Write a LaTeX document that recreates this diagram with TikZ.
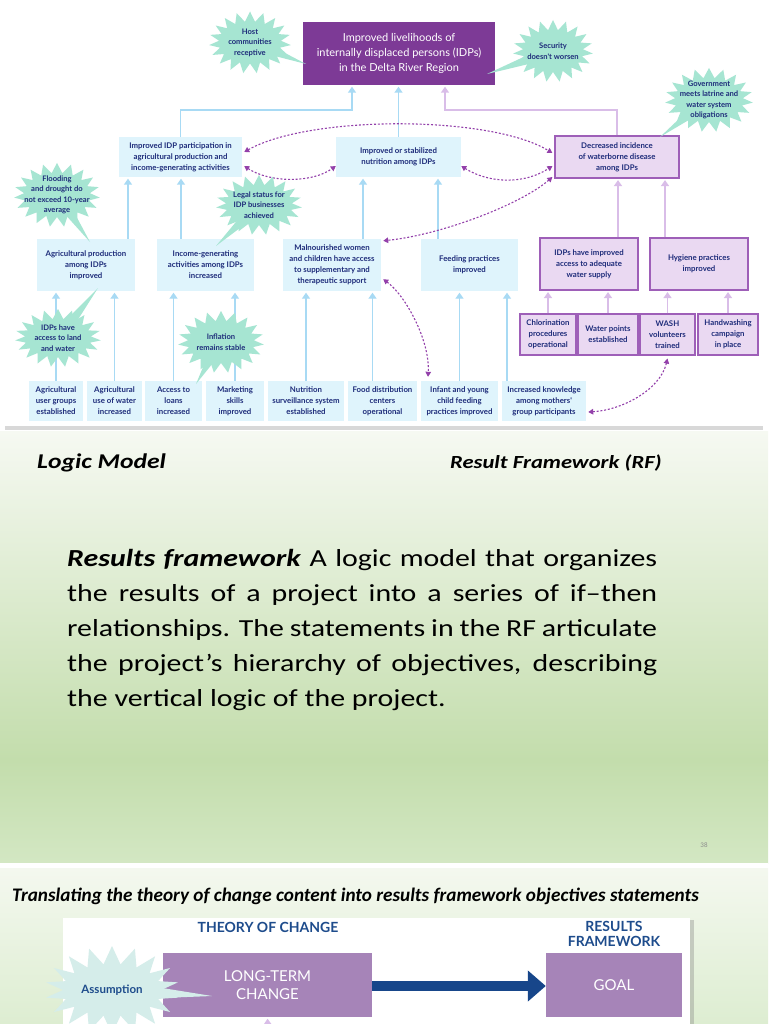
\documentclass[tikz,border=0pt]{standalone}
\usepackage{fontspec}
\setmainfont{Carlito}
\newfontfamily\slidefont[FakeStretch=1.22]{Carlito}
\newfontfamily\dfont{Lato}
\usetikzlibrary{arrows.meta,shapes.symbols,calc,shadows}
\definecolor{navy}{HTML}{1E2C7A}
\definecolor{goalp}{HTML}{7D3A96}
\definecolor{lbfill}{HTML}{DFF4FC}
\definecolor{lbline}{HTML}{A8DAF4}
\definecolor{lpfill}{HTML}{EAD9F2}
\definecolor{lpedge}{HTML}{9E5FB8}
\definecolor{lpline}{HTML}{D9BDE8}
\definecolor{dpurple}{HTML}{9340AA}
\definecolor{mint}{HTML}{A6E5D2}
\definecolor{palemint}{HTML}{D5EDEA}
\definecolor{tocp}{HTML}{A684B8}
\definecolor{tocblue}{HTML}{1E4C8C}
\definecolor{arrowblue}{HTML}{17468A}
\definecolor{sepgray}{HTML}{D8D8D8}
\definecolor{gA}{HTML}{F6F9F2}
\definecolor{gB}{HTML}{C3DDAC}
\definecolor{gC}{HTML}{D3E7C3}
\definecolor{gD}{HTML}{F4F8EF}
\definecolor{gE}{HTML}{DDEDD1}
\begin{document}
\begin{tikzpicture}[x=1pt,y=-1pt,
 tx/.style={font=\dfont\bfseries\fontsize{7.8}{11}\selectfont, text=navy, align=center, inner sep=0pt},
 lb/.style={tx, fill=lbfill},
 lp/.style={tx, fill=lpfill, draw=lpedge, line width=1.2pt},
 barrow/.style={draw=lbline, line width=1.4pt, -{Triangle[width=8pt,length=6pt]}, shorten >=1.5pt},
 parrow/.style={draw=lpline, line width=1.4pt, -{Triangle[width=8pt,length=6pt]}, shorten >=1.5pt},
 darrow/.style={draw=dpurple, line width=1.1pt, dash pattern=on 2pt off 1.8pt, {Triangle[width=5.5pt,length=5pt]}-{Triangle[width=5.5pt,length=5pt]}},
 burst/.style={starburst, starburst points=19, starburst point height=10pt, random starburst=0, fill=mint, draw=none, inner sep=0pt},
 btext/.style={tx, font=\dfont\bfseries\fontsize{7.6}{10.5}\selectfont},
 slidetxt/.style={text=black, inner sep=0pt},
]
\useasboundingbox (0,0) rectangle (768,1024);
% ---------- backgrounds ----------
\fill[white] (0,0) rectangle (768,428);
\fill[sepgray] (5,426) rectangle (763,430);
\shade[top color=gA, bottom color=gB] (0,431) rectangle (768,760);
\shade[top color=gB, bottom color=gC] (0,760) rectangle (768,863);
\fill[white] (0,863) rectangle (768,868);
\shade[top color=gD, bottom color=gE] (0,868) rectangle (768,1024);

% ---------- top diagram: boxes ----------
\node[fill=goalp, text=white, align=center, inner sep=0pt, minimum width=192pt, minimum height=63pt,
  font=\dfont\fontsize{11}{15}\selectfont] (goal) at (399,53.5)
  {Improved livelihoods of\\internally displaced persons (IDPs)\\in the Delta River Region};

\node[lb, minimum width=123pt, minimum height=40pt] (ipart) at (180.5,157)
  {Improved IDP participation in\\agricultural production and\\income-generating activities};
\node[lb, minimum width=125pt, minimum height=40pt] (nutr) at (398.5,157)
  {Improved or stabilized\\nutrition among IDPs};
\node[lp, minimum width=124pt, minimum height=42pt] (decr) at (617,157)
  {Decreased incidence\\of waterborne disease\\among IDPs};

\node[lb, minimum width=98pt, minimum height=52pt] (agp) at (86,265)
  {Agricultural production\\among IDPs\\improved};
\node[lb, minimum width=97pt, minimum height=52pt] (igp) at (205.5,265)
  {Income-generating\\activities among IDPs\\increased};
\node[lb, minimum width=98pt, minimum height=52pt] (mal) at (332,265)
  {Malnourished women\\and children have access\\to supplementary and\\therapeutic support};
\node[lb, minimum width=97pt, minimum height=52pt] (feed) at (469.5,265)
  {Feeding practices\\improved};
\node[lp, minimum width=98pt, minimum height=52pt] (wat) at (589,264)
  {IDPs have improved\\access to adequate\\water supply};
\node[lp, minimum width=98pt, minimum height=52pt] (hyg) at (699,264)
  {Hygiene practices\\improved};

\node[lp, minimum width=56pt, minimum height=41pt] (p1) at (548,334.5) {Chlorination\\procedures\\operational};
\node[lp, minimum width=60pt, minimum height=41pt] (p2) at (608,334.5) {Water points\\established};
\node[lp, minimum width=55pt, minimum height=41pt] (p3) at (667.5,334.5) {WASH\\volunteers\\trained};
\node[lp, minimum width=60pt, minimum height=41pt] (p4) at (728,334.5) {Handwashing\\campaign\\in place};

\node[lb, minimum width=54pt, minimum height=40pt] (a1) at (56,401) {Agricultural\\user groups\\established};
\node[lb, minimum width=55pt, minimum height=40pt] (a2) at (114.5,401) {Agricultural\\use of water\\increased};
\node[lb, minimum width=57pt, minimum height=40pt] (a3) at (173.5,401) {Access to\\loans\\increased};
\node[lb, minimum width=58pt, minimum height=40pt] (a4) at (235,401) {Marketing\\skills\\improved};
\node[lb, minimum width=76pt, minimum height=40pt] (a5) at (306,401) {Nutrition\\surveillance system\\established};
\node[lb, minimum width=69pt, minimum height=40pt] (a6) at (382.5,401) {Food distribution\\centers\\operational};
\node[lb, minimum width=77pt, minimum height=40pt] (a7) at (459.5,401) {Infant and young\\child feeding\\practices improved};
\node[lb, minimum width=84pt, minimum height=40pt] (a8) at (544,401) {Increased knowledge\\among mothers'\\group participants};

% ---------- solid connectors ----------
\draw[barrow] (a1.north) -- (a1.north |- agp.south);
\draw[barrow] (a2.north) -- (a2.north |- agp.south);
\draw[barrow] (a3.north) -- (a3.north |- igp.south);
\draw[barrow] (a4.north) -- (a4.north |- igp.south);
\draw[barrow] (a5.north) -- (a5.north |- mal.south);
\draw[barrow] ([xshift=-10pt]a6.north) -- ([xshift=-10pt]a6.north |- mal.south);
\draw[barrow] (a7.north) -- (a7.north |- feed.south);
\draw[barrow] ([xshift=-37pt]a8.north) -- ([xshift=-37pt]a8.north |- feed.south);

\draw[parrow] (p1.north) -- (p1.north |- wat.south);
\draw[parrow] (p2.north) -- (p2.north |- wat.south);
\draw[parrow] (p3.north) -- (p3.north |- hyg.south);
\draw[parrow] (p4.north) -- (p4.north |- hyg.south);

\draw[barrow] ([xshift=42pt]agp.north) -- ([xshift=42pt]agp.north |- ipart.south);
\draw[barrow] ([xshift=-24.5pt]igp.north) -- ([xshift=-24.5pt]igp.north |- ipart.south);
\draw[barrow] ([xshift=31pt]mal.north) -- ([xshift=31pt]mal.north |- nutr.south);
\draw[barrow] ([xshift=-31.5pt]feed.north) -- ([xshift=-31.5pt]feed.north |- nutr.south);
\draw[parrow] ([xshift=29pt]wat.north) -- ([xshift=29pt]wat.north |- decr.south);
\draw[parrow] ([xshift=-34pt]hyg.north) -- ([xshift=-34pt]hyg.north |- decr.south);

\coordinate (k1) at (352,110);
\coordinate (k2) at (445,110);
\draw[barrow] (ipart.north) |- (k1) -- (k1 |- goal.south);
\draw[barrow] (nutr.north) -- (nutr.north |- goal.south);
\draw[parrow] (decr.north) |- (k2) -- (k2 |- goal.south);

% ---------- dashed two-way connectors ----------
\draw[darrow] ([shift={(2pt,5pt)}]ipart.east) .. controls (310,115) and (490,115) .. ([shift={(-2pt,4pt)}]decr.west);
\draw[darrow] ([shift={(2pt,-9pt)}]ipart.east) .. controls (270,183) and (312,183) .. ([yshift=-9pt]nutr.west);
\draw[darrow] ([yshift=-9pt]nutr.east) .. controls (490,184) and (525,184) .. ([shift={(-2pt,-9pt)}]decr.west);
\draw[darrow] ([shift={(-2pt,-20pt)}]decr.west) .. controls (520,205) and (440,235) .. ([shift={(2pt,-2pt)}]mal.north east);
\draw[darrow] ([shift={(2pt,12pt)}]mal.south east) .. controls (405,295) and (430,340) .. ([yshift=4pt]a7.north -| 428,0);
\draw[darrow] ([yshift=-3pt]p3.south) .. controls (660,390) and (622,410) .. ([shift={(2pt,-11pt)}]a8.east);

% ---------- assumption starbursts ----------
\coordinate (c1) at (250,42.5); \coordinate (t1) at (306,64);
\coordinate (c2) at (553,51);   \coordinate (t2) at (487,74);
\coordinate (c3) at (709,100);  \coordinate (t3) at (660,137);
\coordinate (c4) at (57,195);   \coordinate (t4) at (90,242);
\coordinate (c5) at (259,205);  \coordinate (t5) at (216,246);
\coordinate (c6) at (58,338);   \coordinate (t6) at (98,288);
\coordinate (c7) at (221,342);  \coordinate (t7) at (196,384);
\foreach \i in {1,...,7}{
  \fill[mint] ($(c\i)!7pt!90:(t\i)$) -- (t\i) -- ($(c\i)!7pt!-90:(t\i)$) -- cycle;
}
\node[burst, minimum width=82pt, minimum height=62pt, label={[btext]center:{Host\\communities\\receptive}}] (b1) at (c1) {};
\node[burst, minimum width=80pt, minimum height=62pt, label={[btext]center:{Security\\doesn't worsen}}] (b2) at (c2) {};
\node[burst, minimum width=88pt, minimum height=64pt, label={[btext]center:{Government\\meets latrine and\\water system\\obligations}}] (b3) at (c3) {};
\node[burst, minimum width=86pt, minimum height=64pt, label={[btext]center:{Flooding\\and drought do\\not exceed 10-year\\average}}] (b4) at (c4) {};
\node[burst, minimum width=86pt, minimum height=60pt, label={[btext]center:{Legal status for\\IDP businesses\\achieved}}] (b5) at (c5) {};
\node[burst, minimum width=86pt, minimum height=58pt, label={[btext]center:{IDPs have\\access to land\\and water}}] (b6) at (c6) {};
\node[burst, minimum width=86pt, minimum height=62pt, label={[btext]center:{Inflation\\remains stable}}] (b7) at (c7) {};

% ---------- slide 2 ----------
\node[slidetxt, anchor=base west, font=\slidefont\bfseries\itshape\fontsize{21}{26}\selectfont] (lm) at (37,468) {Logic Model};
\node[slidetxt, anchor=base west, font=\slidefont\bfseries\itshape\fontsize{18.5}{24}\selectfont] (rf) at (450,468) {Result Framework (RF)};
\node[slidetxt, anchor=north west, align=left, font=\slidefont\fontsize{24.5}{35}\selectfont] (para) at (67,549)
{\makebox[590pt][s]{\textbf{\textit{Results framework}} A logic model that organizes}\\
 \makebox[590pt][s]{the results of a project into a series of if–then}\\
 \makebox[590pt][s]{relationships. The statements in the RF articulate}\\
 \makebox[590pt][s]{the project’s hierarchy of objectives, describing}\\
 \makebox[590pt][l]{the vertical logic of the project.}};
\node[text=black!45, font=\fontsize{7}{8}\selectfont, inner sep=0pt] (pg) at (704,845) {38};

% ---------- slide 3 ----------
\node[slidetxt, anchor=base west, font=\bfseries\itshape\fontsize{19.2}{22}\selectfont] (tt) at (12,901)
  {Translating the theory of change content into results framework objectives statements};
\path[fill=white, drop shadow={shadow xshift=4pt, shadow yshift=-2pt, opacity=0.35}] (63,918) rectangle (690,1034);
\node[text=tocblue, font=\dfont\bfseries\fontsize{14}{16}\selectfont, inner sep=0pt] (toc) at (268,927) {THEORY OF CHANGE};
\node[text=tocblue, font=\dfont\bfseries\fontsize{14}{15.5}\selectfont, align=center, inner sep=0pt] (rfh) at (614,934) {RESULTS\\FRAMEWORK};
\node[fill=tocp, text=white, align=center, inner sep=0pt, minimum width=209pt, minimum height=64pt,
  font=\dfont\fontsize{15}{18.5}\selectfont] (ltc) at (267.5,985) {LONG-TERM\\CHANGE};
\node[fill=tocp, text=white, align=center, inner sep=0pt, minimum width=136pt, minimum height=64pt,
  font=\dfont\fontsize{15}{18}\selectfont] (gl) at (614,985) {GOAL};
\draw[arrowblue, line width=10pt, -{Triangle[width=30pt,length=18pt]}] ([yshift=-1pt]ltc.east) -- ([yshift=-1pt]gl.west);
\coordinate (ltin) at (268,1040);
\draw[parrow] (ltin) -- (ltc.south);
\coordinate (c8) at (112,990); \coordinate (t8) at (212,996);
\fill[palemint] ($(c8)!10pt!90:(t8)$) -- (t8) -- ($(c8)!10pt!-90:(t8)$) -- cycle;
\node[burst, fill=palemint, starburst points=18, starburst point height=18pt, minimum width=134pt, minimum height=88pt,
  label={[text=tocblue, inner sep=0pt, font=\dfont\bfseries\fontsize{11.5}{13}\selectfont]center:Assumption}] (b8) at (c8) {};
\end{tikzpicture}
\end{document}
